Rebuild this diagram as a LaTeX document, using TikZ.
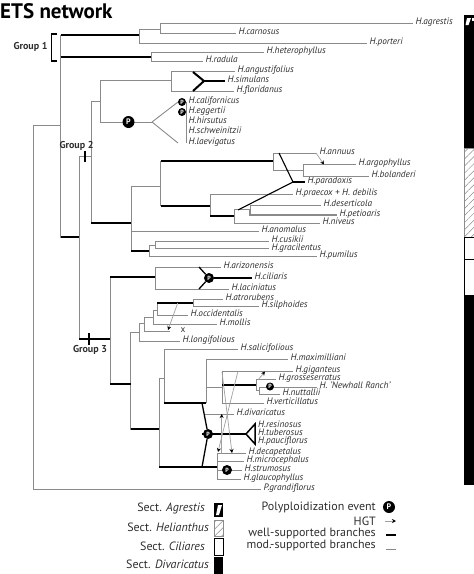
\documentclass[tikz,border=0pt]{standalone}
\usepackage{fontspec}
\setmainfont{PT Sans}
\usetikzlibrary{arrows.meta,patterns.meta}
\definecolor{Branch}{HTML}{8A8A8A}
\definecolor{Transfer}{HTML}{A0A0A0}
\definecolor{Ink}{HTML}{2E2E2E}
\definecolor{Hatch}{HTML}{8C8C8C}

\begin{document}
\begin{tikzpicture}[
    x=1pt,y=-1pt,
    taxon/.style={anchor=west,inner xsep=2.5pt,inner ysep=0pt,text height=5pt,text depth=1.5pt,text=Ink,font=\fontsize{9.3}{9}\selectfont\itshape},
    grouplabel/.style={anchor=center,inner sep=0pt,text=Ink,font=\fontsize{10}{10}\selectfont\bfseries},
    legendtext/.style={anchor=east,inner sep=0pt,text=Ink,font=\fontsize{12}{12}\selectfont},
    polybig/.style={circle,fill=black,text=white,inner sep=0pt,minimum size=12pt,font=\fontsize{8}{8}\selectfont\bfseries},
    polysmall/.style={circle,fill=black,text=white,inner sep=0pt,minimum size=8pt,font=\fontsize{6}{6}\selectfont\bfseries},
    branch/.style={draw=Branch,line width=0.9pt},
    well/.style={draw=black,line width=2pt},
    dark/.style={draw=black,line width=1.1pt},
    hgt/.style={draw=Transfer,line width=0.7pt,-{Stealth[length=4pt,width=4pt,color=black]}},
    hatched/.style={pattern={Lines[angle=45,distance=5pt,line width=0.5pt]},pattern color=Hatch,draw=Hatch,line width=0.6pt}
  ]
    \useasboundingbox (0,0) rectangle (474,574);
    \node[anchor=west,inner sep=0pt,font=\fontsize{21}{21}\selectfont\bfseries] (title) at (0,11) {ETS network};

    % taxa
    \node[taxon] (agrestis) at (413,23) {H.agrestis};
    \node[taxon] (carnosus) at (236,33) {H.carnosus};
    \node[taxon] (porteri) at (367,43) {H.porteri};
    \node[taxon] (heterophyllus) at (264,52) {H.heterophyllus};
    \node[taxon] (radula) at (203,61) {H.radula};
    \node[taxon] (angustifolius) at (235,71) {H.angustifolius};
    \node[taxon] (simulans) at (225,81) {H.simulans};
    \node[taxon] (floridanus) at (234,91) {H.floridanus};
    \node[taxon] (californicus) at (186,102) {H.californicus};
    \node[taxon] (eggertii) at (186,112) {H.eggertii};
    \node[taxon] (hirsutus) at (186,122) {H.hirsutus};
    \node[taxon] (schweinitzii) at (186,132) {H.schweinitzii};
    \node[taxon] (laevigatus) at (186,143) {H.laevigatus};
    \node[taxon] (annuus) at (317,153) {H.annuus};
    \node[taxon] (argophyllus) at (356,164) {H.argophyllus};
    \node[taxon] (bolanderi) at (369,176) {H.bolanderi};
    \node[taxon] (paradoxis) at (305,182) {H.paradoxis};
    \node[taxon] (praecox) at (293,194) {H.praecox + H. debilis};
    \node[taxon] (deserticola) at (321,205) {H.deserticola};
    \node[taxon] (petioaris) at (337,215) {H.petioaris};
    \node[taxon] (niveus) at (320,223) {H.niveus};
    \node[taxon] (anomalus) at (259,231) {H.anomalus};
    \node[taxon] (cusikii) at (269,241) {H.cusikii};
    \node[taxon] (gracilentus) at (269,248.5) {H.gracilentus};
    \node[taxon] (pumilus) at (317,256) {H.pumilus};
    \node[taxon] (arizonensis) at (221,267) {H.arizonensis};
    \node[taxon] (ciliaris) at (252,278) {H.ciliaris};
    \node[taxon] (laciniatus) at (229,289) {H.laciniatus};
    \node[taxon] (atrorubens) at (223,299) {H.atrorubens};
    \node[taxon] (silphoides) at (259,306) {H.silphoides};
    \node[taxon] (occidentalis) at (188,315) {H.occidentalis};
    \node[taxon] (mollis) at (217,324) {H.mollis};
    \node[taxon,font=\fontsize{9.3}{9}\selectfont] (xmark) at (178,331) {x};
    \node[taxon] (longifolious) at (180,341) {H.longifolious};
    \node[taxon] (salicifolious) at (238,349) {H.salicifolious};
    \node[taxon] (maximilliani) at (288,359) {H.maximilliani};
    \node[taxon] (giganteus) at (293,371) {H.giganteus};
    \node[taxon] (grosseserratus) at (276,379) {H.grosseserratus};
    \node[taxon] (newhall) at (317,387) {H. 'Newhall Ranch'};
    \node[taxon] (nuttallii) at (280,394) {H.nuttallii};
    \node[taxon] (verticillatus) at (264,403) {H.verticillatus};
    \node[taxon] (divaricatus) at (234,414) {H.divaricatus};
    \node[taxon] (resinosus) at (255.5,426) {H.resinosus};
    \node[taxon] (tuberosus) at (255.5,434) {H.tuberosus};
    \node[taxon] (pauciflorus) at (255.5,442) {H.pauciflorus};
    \node[taxon] (decapetalus) at (246,453) {H.decapetalus};
    \node[taxon] (microcephalus) at (244,461) {H.microcephalus};
    \node[taxon] (strumosus) at (242,470) {H.strumosus};
    \node[taxon] (glaucophyllus) at (241,479) {H.glaucophyllus};
    \node[taxon] (grandiflorus) at (261,489) {P.grandiflorus};

    % junctions
    \coordinate (rootleft) at (33.5,125);
    \coordinate (rootmain) at (60.5,125);
    \coordinate (topa) at (139,35);
    \coordinate (topb) at (160,29);
    \coordinate (topc) at (151,57);
    \coordinate (lower) at (79,237);
    \coordinate (grptwo) at (91,156);
    \coordinate (grpthree) at (110,339);
    \coordinate (twoa) at (100.5,101);
    \coordinate (twob) at (171,80);
    \coordinate (twoc) at (152,122);
    \coordinate (twod) at (131,222.6);
    \coordinate (twoe) at (160.5,186);
    \coordinate (twof) at (273,161);
    \coordinate (twog) at (303,170);
    \coordinate (twoh) at (210,205.6);
    \coordinate (twoi) at (234,216);
    \coordinate (twoj) at (250,209);
    \coordinate (twok) at (149,250.6);
    \coordinate (twol) at (155,245);
    \coordinate (threea) at (155,277);
    \coordinate (threeb) at (130.6,384);
    \coordinate (threec) at (139,332.6);
    \coordinate (threed) at (144,323);
    \coordinate (threee) at (153,317);
    \coordinate (threef) at (157,310);
    \coordinate (threeg) at (193,303);
    \coordinate (xend) at (170,331);
    \coordinate (threeh) at (159,429);
    \coordinate (threei) at (164,378);
    \coordinate (threej) at (206,403);
    \coordinate (threek) at (222,387);
    \coordinate (threel) at (256,385);
    \coordinate (threem) at (259,390);
    \coordinate (threen) at (217,467);
    \coordinate (trunkmid) at (205,414);

    % polyploid markers and hubs
    \coordinate (triend) at (178,102);
    \coordinate (triendb) at (178,143);
    \coordinate (simhub) at (204,81);
    \coordinate (simtop) at (193,72);
    \coordinate (simbot) at (193,91);
    \coordinate (parahub) at (293,182);
    \coordinate (paratop) at (279,153);
    \coordinate (parabot) at (238,210);
    \coordinate (cilitop) at (199,267);
    \coordinate (cilibot) at (199,289);
    \coordinate (trunktop) at (202,403);
    \coordinate (trunkbot) at (202,467);
    \coordinate (reshub) at (246,434);
    \coordinate (restop) at (255,424);
    \coordinate (resbot) at (255,444);

    % moderately supported branches
    \draw[branch] (rootleft) |- (grandiflorus) (rootleft) -- (rootmain);
    \draw[branch] (rootmain) |- (topa) (rootmain) |- (topc) (rootmain) |- (lower);
    \draw[branch] (topa) |- (topb) (topa) |- (porteri);
    \draw[branch] (topb) |- (agrestis) (topb) |- (carnosus);
    \draw[branch] (topc) |- (heterophyllus) (topc) |- (radula);
    \draw[branch] (lower) |- (grptwo) (lower) |- (grpthree);
    \draw[branch] (grptwo) |- (twoa) (grptwo) |- (twod);
    \draw[branch] (twoa) |- (twob) (twoa) |- (twoc);
    \draw[branch] (twob) |- (angustifolius) (twob) |- (floridanus);
    \draw[branch] (twoc) -- (triend) (twoc) -- (triendb);
    \draw[branch] (triend-|californicus.west) |- (laevigatus);
    \draw[branch] (twod) |- (twoe) (twod) |- (anomalus) (twod) |- (twok);
    \draw[branch] (twoe) |- (twof) (twoe) |- (twoh);
    \draw[branch] (twof) |- (annuus) (twof) |- (twog);
    \draw[branch] (twog) |- (argophyllus) (twog) |- (bolanderi);
    \draw[branch] (twoh) |- (praecox) (twoh) |- (twoi);
    \draw[branch] (twoi) |- (twoj) (twoi) |- (niveus);
    \draw[branch] (twoj) |- (deserticola);
    \draw[branch,line width=1.4pt] (twoj) |- (petioaris);
    \draw[branch] (twok) |- (twol) (twok) |- (pumilus);
    \draw[branch] (twol) |- (cusikii) (twol) |- (gracilentus);
    \draw[branch] (grpthree) |- (threea) (grpthree) |- (threeb);
    \draw[branch] (threea) |- (arizonensis) (threea) |- (laciniatus);
    \draw[branch] (threeb) |- (threec) (threeb) |- (threeh);
    \draw[branch] (threec) |- (threed) (threec) |- (longifolious);
    \draw[branch] (threed) |- (threee) (threed) |- (xend);
    \draw[branch] (threee) |- (threef) (threee) |- (mollis);
    \draw[branch] (threef) |- (threeg) (threef) |- (occidentalis);
    \draw[branch] (threeg) |- (atrorubens) (threeg) |- (silphoides);
    \draw[branch] (threeh) |- (threei) (threeh) |- (threen);
    \draw[branch] (threei) |- (salicifolious) (threei) |- (threej);
    \draw[branch] (threej) |- (maximilliani) (threej) |- (threek);
    \draw[branch] (threek) |- (giganteus) (threek) |- (verticillatus) (threek) |- (threel);
    \draw[branch] (threel) |- (grosseserratus) (threel) |- (threem);
    \draw[branch] (threem) |- (newhall) (threem) |- (nuttallii);
    \draw[branch] (trunkmid) -- (divaricatus);
    \draw[branch] (threen) |- (decapetalus) (threen) |- (microcephalus) (threen) |- (strumosus) (threen) |- (glaucophyllus);

    % well supported branches
    \draw[well] (rootmain|-topa) -- (topa);
    \draw[well] (rootmain|-topc) -- (topc);
    \draw[well] (rootmain|-lower) -- (lower);
    \draw[well] (grptwo|-twod) -- (twod);
    \draw[well] (twoe|-twof) -- (twof);
    \draw[well] (twoe|-twoh) -- (twoh);
    \draw[well] (twoh|-twoi) -- (twoi);
    \draw[well] (twod|-twok) -- (twok);
    \draw[well] (lower|-grpthree) -- (grpthree);
    \draw[well] (grpthree|-threea) -- (threea);
    \draw[well] (grpthree|-threeb) -- (threeb);
    \draw[well] (threeb|-threeh) -- (threeh);
    \draw[well] (threef|-threeg) -- (threeg);
    \draw[well] (threei|-threej) -- (threej);
    \draw[well] (threek|-threel) -- (threel);
    \draw[well] (threeh|-threen) -- (threen);
    \draw[well,miter limit=2] (simtop) -- (simhub) -- (simbot);
    \draw[dark] (simhub) -- (simulans);
    \draw[dark] (paratop) -- (parahub) -- (parabot);
    \draw[dark] (parahub) -- (paradoxis);
    \draw[dark] (reshub) -- (reshub-|trunktop);
    \draw[dark,line width=1.5pt,fill=white] (reshub) -- (restop) -- (resbot) -- cycle;
    \draw[well] (84.5,151) -- (84.5,162);
    \draw[well] (89,333) -- (89,345);

    % markers go over the branches
    \node[polybig] (polyb) at (128.5,122) {P};
    \node[polysmall] (polycal) at (182,102) {P};
    \node[polysmall] (polyegg) at (182,112) {P};
    \node[polysmall,minimum size=10pt] (polycil) at (209,278) {P};
    \node[polysmall] (polynew) at (270,386.5) {P};
    \node[polysmall,minimum size=10pt] (polydiv) at (208,434) {P};
    \node[polysmall,minimum size=10pt] (polystr) at (227,470) {P};
    \draw[dark,line width=1.3pt] (cilitop) -- (polycil) -- (cilibot);
    \draw[dark] (polycil) -- (ciliaris);
    \draw[dark,line width=1.3pt] (trunktop) -- (polydiv) -- (trunkbot);

    % transfers
    \coordinate (hgtanna) at (316,153);
    \coordinate (hgtarg) at (324,164.5);
    \coordinate (hgtocc) at (177.7,303);
    \coordinate (hgtxend) at (168,330);
    \coordinate (hgtgrot) at (258,380);
    \coordinate (hgtgrob) at (265,371.5);
    \coordinate (hgtupa) at (238,371);
    \coordinate (hgtupb) at (218,452);
    \coordinate (hgtvera) at (221.7,454);
    \coordinate (hgtverb) at (221.7,414);
    \coordinate (hgtdeca) at (222,372);
    \coordinate (hgtdecb) at (232,453);
    \draw[hgt] (hgtanna) -- (hgtarg);
    \draw[hgt] (hgtocc) -- (hgtxend);
    \draw[hgt] (hgtgrot) -- (hgtgrob);
    \draw[hgt] (hgtupa) -- (hgtupb);
    \draw[hgt] (hgtvera) -- (hgtverb);
    \draw[hgt] (hgtdeca) -- (hgtdecb);

    % groups
    \draw[draw=black,line width=1.8pt] (57,34) -- (51.5,34) -- (51.5,61) -- (57,61);
    \node[grouplabel] (groupone) at (30.5,46.5) {Group 1};
    \node[grouplabel] (grouptwo) at (76.5,145.5) {Group 2};
    \node[grouplabel] (groupthree) at (90,350) {Group 3};

    % section bar
    \fill[black] (464,15) rectangle (474,148);
    \fill[white] (467,18) -- (471,18) -- (468.5,25) -- (465.5,25) -- cycle;
    \fill[white] (472,18) -- (474,18) -- (474,21) -- (472,21) -- cycle;
    \draw[hatched] (464.5,148) rectangle (474.5,237);
    \draw[draw=black,line width=0.8pt,fill=white] (464.5,237) rectangle (474.5,259);
    \draw[draw=black,line width=0.8pt,fill=white] (464.5,259) rectangle (474.5,295);
    \fill[black] (464,295) rectangle (474,485);

    % legend
    \node[legendtext] (sectagrestis) at (205,508) {Sect. \textit{Agrestis}};
    \node[legendtext] (secthelianthus) at (209,527) {Sect. \textit{Helianthus}};
    \node[legendtext] (sectciliares) at (205,546) {Sect. \textit{Ciliares}};
    \node[legendtext] (sectdivaricatus) at (209,564) {Sect. \textit{Divaricatus}};
    \fill[black] (214,503) rectangle (223,517);
    \fill[white] (218,505) -- (222,505) -- (219,515) -- (216,515) -- cycle;
    \draw[hatched] (214.5,520) rectangle (223,536);
    \draw[draw=black,line width=0.8pt,fill=white] (214.5,538.5) rectangle (223,555);
    \fill[black] (214,557) rectangle (223,574);
    \node[legendtext] (legpoly) at (376,507) {Polyploidization event};
    \node[legendtext] (leghgt) at (376,521) {HGT};
    \node[legendtext] (legwell) at (376,533) {well-supported branches};
    \node[legendtext] (legmod) at (376,545) {mod.-supported branches};
    \node[polybig] (legmark) at (389,507) {P};
    \coordinate (legarra) at (385,521);
    \coordinate (legarrb) at (396,521);
    \coordinate (legwella) at (386,535);
    \coordinate (legwellb) at (396,535);
    \coordinate (legmoda) at (386,549);
    \coordinate (legmodb) at (396,549);
    \draw[hgt] (legarra) -- (legarrb);
    \draw[well] (legwella) -- (legwellb);
    \draw[branch] (legmoda) -- (legmodb);
  \end{tikzpicture}
\end{document}
